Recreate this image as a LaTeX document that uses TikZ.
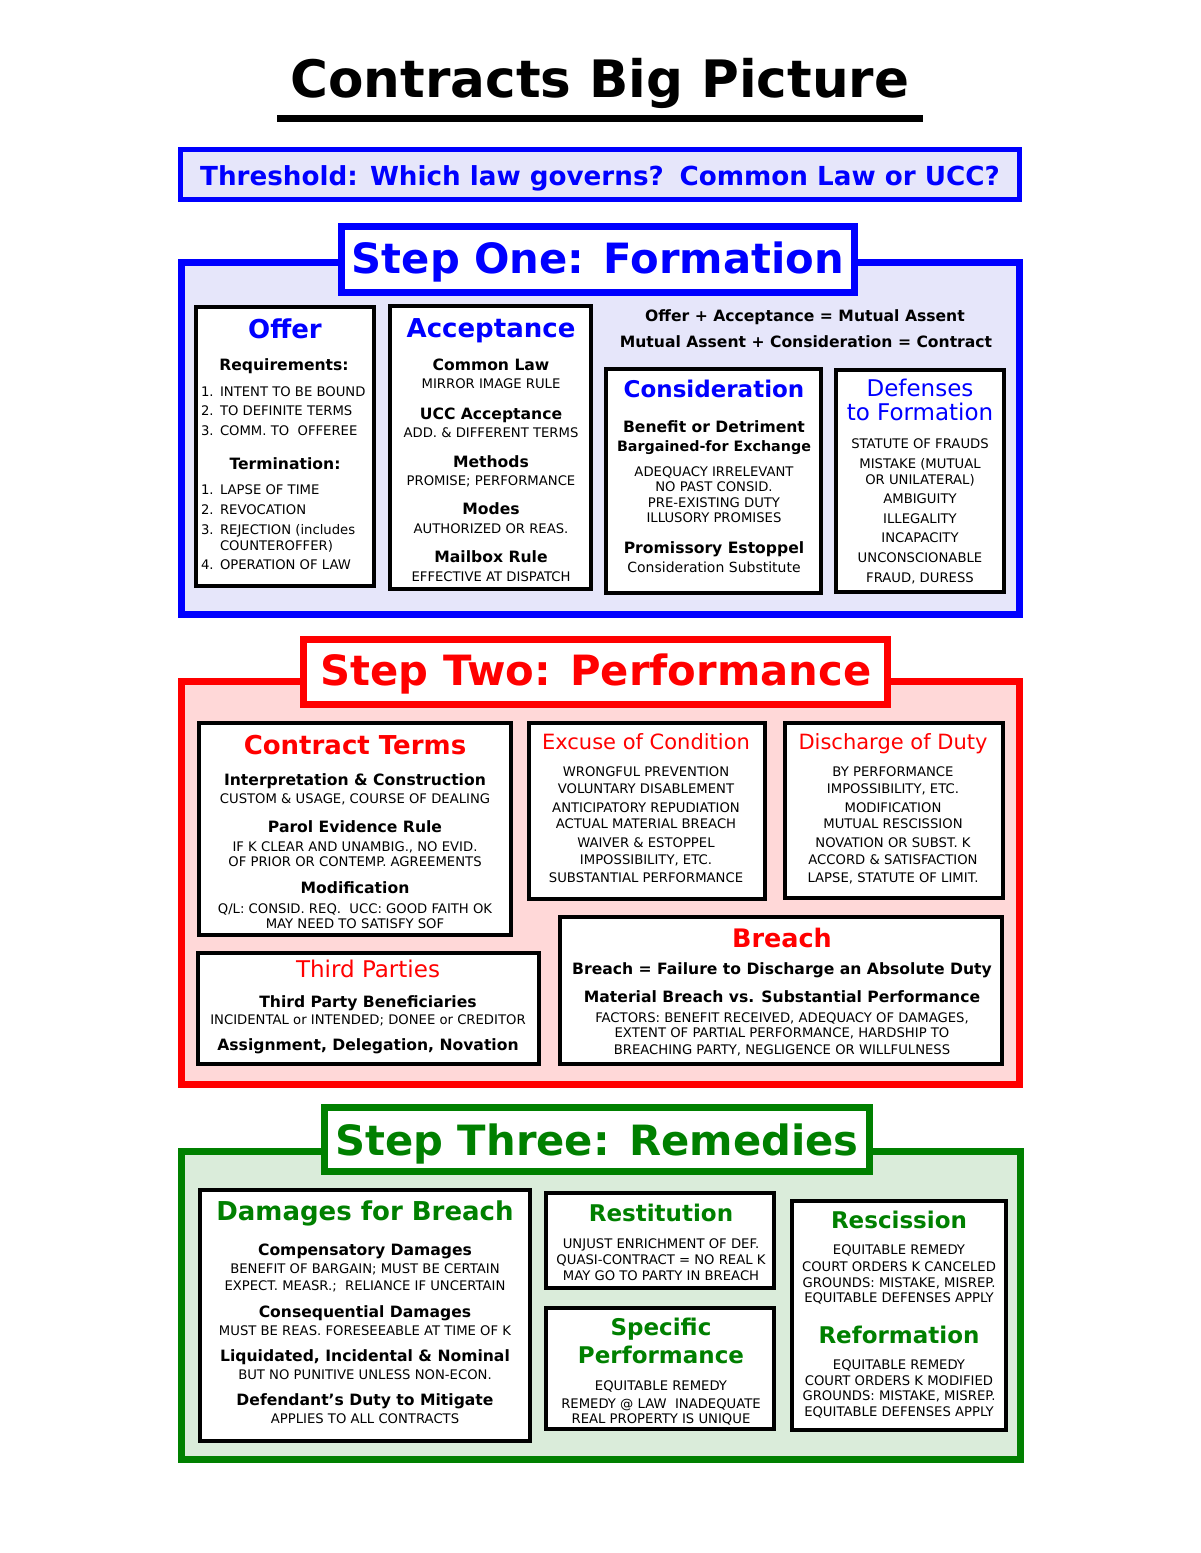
\documentclass[tikz,border=0pt]{standalone}
\usepackage{fontspec}
\setmainfont{DejaVu Sans}
\definecolor{lav}{RGB}{230,230,250}
\definecolor{pnk}{RGB}{255,216,216}
\definecolor{lgr}{RGB}{218,236,218}
\definecolor{myblue}{RGB}{0,0,255}
\definecolor{myred}{RGB}{255,0,0}
\definecolor{mygreen}{RGB}{0,128,0}
\newcounter{tn}
\newcommand\T[4][sm]{\stepcounter{tn}\node[#1] (t\arabic{tn}) at (#2,#3) {#4};}
\newcommand\Bx[6]{\node[#2, anchor=north west, minimum width={(#5-#3)*1pt}, minimum height={(#6-#4)*1pt}, inner sep=0pt, outer sep=0pt] (#1) at (#3,#4) {};}
\newcommand\Li[3]{\stepcounter{tn}\node[sm,anchor=base west] (n\arabic{tn}) at (201,#1) {#2};\node[sm,anchor=base west] (l\arabic{tn}) at (220,#1) {#3};}
\tikzset{
  panel/.style={line width=7pt},
  box/.style={draw=black, line width=4.5pt, fill=white},
  txt/.style={anchor=base, inner sep=0pt, outer sep=0pt},
  ttl/.style={txt, font=\bfseries\fontsize{51.6}{52}\selectfont},
  thrf/.style={txt, font=\bfseries\fontsize{26.2}{26}\selectfont},
  stepttl/.style={txt, font=\bfseries\fontsize{41.7}{42}\selectfont},
  hd/.style={txt, font=\bfseries\fontsize{26}{26}\selectfont},
  hds/.style={txt, font=\bfseries\fontsize{23}{23}\selectfont},
  hdr/.style={txt, font=\fontsize{21}{21}\selectfont},
  hdd/.style={txt, font=\fontsize{23}{23}\selectfont},
  sub/.style={txt, font=\bfseries\fontsize{15.6}{16}\selectfont},
  subn/.style={txt, font=\bfseries\fontsize{14.3}{15}\selectfont},
  sm/.style={txt, font=\fontsize{13.2}{13}\selectfont},
  smr/.style={txt, font=\fontsize{14}{14}\selectfont},
}
\begin{document}
\begin{tikzpicture}[x=1pt,y=-1pt]
\useasboundingbox[fill=white] (0,0) rectangle (1200,1553);
% Title
\T[ttl]{600}{97}{Contracts Big Picture}
\draw[line width=7pt] (277,118.5) -- (923,118.5);
% Threshold
\Bx{thr}{draw=myblue, line width=5pt, fill=lav}{180}{149.5}{1019}{199.5}
\T[thrf,text=myblue]{600}{185}{Threshold: Which law governs?\hspace{0.6em}Common Law or UCC?}

% ===== Step One =====
\Bx{p1}{draw=myblue, panel, fill=lav}{181}{262}{1019}{614}
\Bx{tab1}{draw=myblue, panel, fill=white}{341}{226}{854}{292}
\T[stepttl,text=myblue]{598}{273}{Step One: Formation}

\Bx{offer}{box}{196}{307}{374}{586}
\T[hd,text=myblue]{285}{338}{Offer}
\T[sub]{284}{370}{Requirements:}
\Li{396}{1.}{INTENT TO BE BOUND}
\Li{415}{2.}{TO DEFINITE TERMS}
\Li{435}{3.}{COMM. TO\ \ OFFEREE}
\T[sub]{285}{469}{Termination:}
\Li{494}{1.}{LAPSE OF TIME}
\Li{514}{2.}{REVOCATION}
\Li{534}{3.}{REJECTION (includes}
\Li{550}{}{COUNTEROFFER)}
\Li{569}{4.}{OPERATION OF LAW}

\Bx{accept}{box}{390}{306}{591}{589}
\T[hd,text=myblue]{491}{337}{Acceptance}
\T[sub]{491}{370}{Common Law}
\T{491}{388}{MIRROR IMAGE RULE}
\T[sub]{491}{419}{UCC Acceptance}
\T{491}{437}{ADD. \& DIFFERENT TERMS}
\T[sub]{491}{467}{Methods}
\T{491}{485}{PROMISE;\ PERFORMANCE}
\T[sub]{491}{514}{Modes}
\T{491}{533}{AUTHORIZED OR REAS.}
\T[sub]{491}{562}{Mailbox Rule}
\T{491}{581}{EFFECTIVE AT DISPATCH}

\T[sub]{805}{321}{Offer + Acceptance = Mutual Assent}
\T[sub]{806}{347}{Mutual Assent + Consideration = Contract}

\Bx{consid}{box}{606}{369}{821}{593}
\T[hds,text=myblue]{714}{397}{Consideration}
\T[sub]{714}{432}{Benefit or Detriment}
\T[subn]{714}{451}{Bargained-for Exchange}
\T{714}{476}{ADEQUACY IRRELEVANT}
\T{714}{491}{NO PAST CONSID.}
\T{714}{507}{PRE-EXISTING DUTY}
\T{714}{522}{ILLUSORY PROMISES}
\T[sub]{714}{553}{Promissory Estoppel}
\T[smr]{714}{572}{Consideration Substitute}

\Bx{defen}{box}{836}{370}{1004}{592}
\T[hdd,text=myblue]{920}{396}{Defenses}
\T[hdd,text=myblue]{920}{420}{to Formation}
\T{920}{448}{STATUTE OF FRAUDS}
\T{920}{468}{MISTAKE (MUTUAL}
\T{920}{484}{OR UNILATERAL)}
\T{920}{503}{AMBIGUITY}
\T{920}{523}{ILLEGALITY}
\T{920}{542}{INCAPACITY}
\T{920}{562}{UNCONSCIONABLE}
\T{920}{582}{FRAUD, DURESS}

% ===== Step Two =====
\Bx{p2}{draw=myred, panel, fill=pnk}{181}{681}{1019}{1084}
\Bx{tab2}{draw=myred, panel, fill=white}{303}{639}{887}{704}
\T[stepttl,text=myred]{596}{685}{Step Two: Performance}

\Bx{terms}{box}{199}{723}{511}{935}
\T[hd,text=myred]{355}{754}{Contract Terms}
\T[sub]{355}{785}{Interpretation \& Construction}
\T{355}{803}{CUSTOM \& USAGE,\ COURSE OF DEALING}
\T[sub]{355}{832}{Parol Evidence Rule}
\T{355}{851}{IF K CLEAR AND UNAMBIG.,\ NO EVID.}
\T{355}{866}{OF PRIOR OR CONTEMP.\ AGREEMENTS}
\T[sub]{355}{893}{Modification}
\T{355}{913}{Q/L:\ CONSID.\ REQ.\ \ UCC:\ GOOD FAITH OK}
\T{355}{928}{MAY NEED TO SATISFY SOF}

\Bx{excuse}{box}{529}{723}{765}{899}
\T[hdr,text=myred]{646}{749}{Excuse of Condition}
\T{646}{776}{WRONGFUL PREVENTION}
\T{646}{793}{VOLUNTARY DISABLEMENT}
\T{646}{812}{ANTICIPATORY REPUDIATION}
\T{646}{828}{ACTUAL MATERIAL BREACH}
\T{646}{847}{WAIVER \& ESTOPPEL}
\T{646}{864}{IMPOSSIBILITY,\ ETC.}
\T{646}{882}{SUBSTANTIAL PERFORMANCE}

\Bx{disch}{box}{785}{723}{1003}{898}
\T[hdr,text=myred]{893}{749}{Discharge of Duty}
\T{893}{776}{BY PERFORMANCE}
\T{893}{793}{IMPOSSIBILITY, ETC.}
\T{893}{812}{MODIFICATION}
\T{893}{828}{MUTUAL RESCISSION}
\T{893}{847}{NOVATION OR SUBST.\ K}
\T{893}{864}{ACCORD \& SATISFACTION}
\T{893}{882}{LAPSE,\ STATUTE OF LIMIT.}

\Bx{third}{box}{198}{953}{539}{1064}
\T[hdd,text=myred]{368}{977}{Third Parties}
\T[sub]{368}{1007}{Third Party Beneficiaries}
\T{368}{1024}{INCIDENTAL or INTENDED;\ DONEE or CREDITOR}
\T[sub]{368}{1050}{Assignment, Delegation, Novation}

\Bx{breach}{box}{560}{917}{1002}{1064}
\T[txt,font=\bfseries\fontsize{25.5}{26}\selectfont,text=myred]{782}{947}{Breach}
\T[sub]{782}{974}{Breach = Failure to Discharge an Absolute Duty}
\T[sub]{782}{1002}{Material Breach vs. Substantial Performance}
\T{782}{1022}{FACTORS:\ BENEFIT RECEIVED,\ ADEQUACY OF DAMAGES,}
\T{782}{1037}{EXTENT OF PARTIAL PERFORMANCE, HARDSHIP TO}
\T{782}{1054}{BREACHING PARTY, NEGLIGENCE OR WILLFULNESS}

% ===== Step Three =====
\Bx{p3}{draw=mygreen, panel, fill=lgr}{181}{1151}{1020}{1459}
\Bx{tab3}{draw=mygreen, panel, fill=white}{324}{1107}{869}{1171}
\T[stepttl,text=mygreen]{597}{1155}{Step Three: Remedies}

\Bx{damages}{box}{200}{1190}{530}{1441}
\T[hd,text=mygreen]{365}{1220}{Damages for Breach}
\T[sub]{365}{1255}{Compensatory Damages}
\T{365}{1273}{BENEFIT OF BARGAIN;\ MUST BE CERTAIN}
\T{365}{1290}{EXPECT.\ MEASR.;\ \ RELIANCE IF UNCERTAIN}
\T[sub]{365}{1317}{Consequential Damages}
\T{365}{1335}{MUST BE REAS. FORESEEABLE AT TIME OF K}
\T[sub]{365}{1361}{Liquidated, Incidental \& Nominal}
\T{365}{1379}{BUT NO PUNITIVE UNLESS NON-ECON.}
\T[sub]{365}{1405}{Defendant's Duty to Mitigate}
\T{365}{1423}{APPLIES TO ALL CONTRACTS}

\Bx{restit}{box}{546}{1193}{774}{1288}
\T[hds,text=mygreen]{661}{1221}{Restitution}
\T{661}{1248}{UNJUST ENRICHMENT OF DEF.}
\T{661}{1264}{QUASI-CONTRACT =\ NO REAL K}
\T{661}{1280}{MAY GO TO PARTY IN BREACH}

\Bx{specific}{box}{546}{1308}{774}{1429}
\T[hds,text=mygreen]{661}{1335}{Specific}
\T[hds,text=mygreen]{661}{1363}{Performance}
\T{661}{1390}{EQUITABLE REMEDY}
\T{661}{1408}{REMEDY @ LAW\ \ INADEQUATE}
\T{661}{1423}{REAL PROPERTY IS UNIQUE}

\Bx{rescis}{box}{792}{1201}{1006}{1430}
\T[hds,text=mygreen]{899}{1228}{Rescission}
\T{899}{1254}{EQUITABLE REMEDY}
\T{899}{1271}{COURT ORDERS K CANCELED}
\T{899}{1287}{GROUNDS:\ MISTAKE,\ MISREP.}
\T{899}{1302}{EQUITABLE DEFENSES APPLY}
\T[hds,text=mygreen]{899}{1343}{Reformation}
\T{899}{1369}{EQUITABLE REMEDY}
\T{899}{1385}{COURT ORDERS K MODIFIED}
\T{899}{1400}{GROUNDS:\ MISTAKE,\ MISREP.}
\T{899}{1416}{EQUITABLE DEFENSES APPLY}
\end{tikzpicture}
\end{document}
